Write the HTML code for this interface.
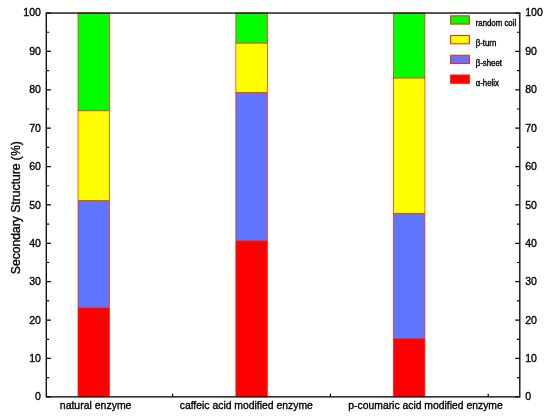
<!DOCTYPE html>
<html><head><meta charset="utf-8"><title>Secondary Structure</title>
<style>html,body{margin:0;padding:0;background:#fff;}svg{display:block;}text{font-family:"Liberation Sans",sans-serif;fill:#000;stroke:#000;stroke-width:0.35;}</style></head><body>
<svg width="550" height="417" viewBox="0 0 550 417">
<rect width="550" height="417" fill="#fff"/>
<path d="M46.3 396.85h4.6M519.8 396.85h-4.6M46.3 358.47h4.6M519.8 358.47h-4.6M46.3 320.09h4.6M519.8 320.09h-4.6M46.3 281.71h4.6M519.8 281.71h-4.6M46.3 243.33h4.6M519.8 243.33h-4.6M46.3 204.95h4.6M519.8 204.95h-4.6M46.3 166.57h4.6M519.8 166.57h-4.6M46.3 128.19h4.6M519.8 128.19h-4.6M46.3 89.81h4.6M519.8 89.81h-4.6M46.3 51.43h4.6M519.8 51.43h-4.6M46.3 13.05h4.6M519.8 13.05h-4.6M46.3 377.66h2.8M519.8 377.66h-2.8M46.3 339.28h2.8M519.8 339.28h-2.8M46.3 300.90h2.8M519.8 300.90h-2.8M46.3 262.52h2.8M519.8 262.52h-2.8M46.3 224.14h2.8M519.8 224.14h-2.8M46.3 185.76h2.8M519.8 185.76h-2.8M46.3 147.38h2.8M519.8 147.38h-2.8M46.3 109.00h2.8M519.8 109.00h-2.8M46.3 70.62h2.8M519.8 70.62h-2.8M46.3 32.24h2.8M519.8 32.24h-2.8M172.57 396.85v-3.2M330.40 396.85v-3.2M488.23 396.85v-3.2" stroke="#000" stroke-width="1.2" fill="none"/>
<rect x="78.00" y="307.81" width="31.50" height="89.04" fill="#ff0000" stroke="#ff2000" stroke-width="0.7"/>
<rect x="78.00" y="200.54" width="31.50" height="107.27" fill="#5f74ff" stroke="#ff2000" stroke-width="0.7"/>
<rect x="78.00" y="110.73" width="31.50" height="89.81" fill="#ffff00" stroke="#ff2000" stroke-width="0.7"/>
<rect x="78.00" y="13.05" width="31.50" height="97.68" fill="#00ff00" stroke="#ff2000" stroke-width="0.7"/>
<rect x="235.85" y="240.84" width="31.50" height="156.01" fill="#ff0000" stroke="#ff2000" stroke-width="0.7"/>
<rect x="235.85" y="92.50" width="31.50" height="148.34" fill="#5f74ff" stroke="#ff2000" stroke-width="0.7"/>
<rect x="235.85" y="42.99" width="31.50" height="49.51" fill="#ffff00" stroke="#ff2000" stroke-width="0.7"/>
<rect x="235.85" y="13.05" width="31.50" height="29.94" fill="#00ff00" stroke="#ff2000" stroke-width="0.7"/>
<rect x="393.40" y="338.70" width="31.50" height="58.15" fill="#ff0000" stroke="#ff2000" stroke-width="0.7"/>
<rect x="393.40" y="213.39" width="31.50" height="125.31" fill="#5f74ff" stroke="#ff2000" stroke-width="0.7"/>
<rect x="393.40" y="77.91" width="31.50" height="135.48" fill="#ffff00" stroke="#ff2000" stroke-width="0.7"/>
<rect x="393.40" y="13.05" width="31.50" height="64.86" fill="#00ff00" stroke="#ff2000" stroke-width="0.7"/>
<rect x="46.3" y="13.05" width="473.49999999999994" height="383.80" fill="none" stroke="#111" stroke-width="1.4"/>
<text transform="translate(40.90 400.35) scale(0.96 1)" font-size="11" text-anchor="end">0</text>
<text transform="translate(525.20 400.35) scale(0.96 1)" font-size="11" text-anchor="start">0</text>
<text transform="translate(40.90 362.02) scale(0.96 1)" font-size="11" text-anchor="end">10</text>
<text transform="translate(525.20 362.02) scale(0.96 1)" font-size="11" text-anchor="start">10</text>
<text transform="translate(40.90 323.69) scale(0.96 1)" font-size="11" text-anchor="end">20</text>
<text transform="translate(525.20 323.69) scale(0.96 1)" font-size="11" text-anchor="start">20</text>
<text transform="translate(40.90 285.36) scale(0.96 1)" font-size="11" text-anchor="end">30</text>
<text transform="translate(525.20 285.36) scale(0.96 1)" font-size="11" text-anchor="start">30</text>
<text transform="translate(40.90 247.03) scale(0.96 1)" font-size="11" text-anchor="end">40</text>
<text transform="translate(525.20 247.03) scale(0.96 1)" font-size="11" text-anchor="start">40</text>
<text transform="translate(40.90 208.65) scale(0.96 1)" font-size="11" text-anchor="end">50</text>
<text transform="translate(525.20 208.65) scale(0.96 1)" font-size="11" text-anchor="start">50</text>
<text transform="translate(40.90 170.27) scale(0.96 1)" font-size="11" text-anchor="end">60</text>
<text transform="translate(525.20 170.27) scale(0.96 1)" font-size="11" text-anchor="start">60</text>
<text transform="translate(40.90 131.84) scale(0.96 1)" font-size="11" text-anchor="end">70</text>
<text transform="translate(525.20 131.84) scale(0.96 1)" font-size="11" text-anchor="start">70</text>
<text transform="translate(40.90 93.41) scale(0.96 1)" font-size="11" text-anchor="end">80</text>
<text transform="translate(525.20 93.41) scale(0.96 1)" font-size="11" text-anchor="start">80</text>
<text transform="translate(40.90 54.93) scale(0.96 1)" font-size="11" text-anchor="end">90</text>
<text transform="translate(525.20 54.93) scale(0.96 1)" font-size="11" text-anchor="start">90</text>
<text transform="translate(40.90 16.35) scale(0.96 1)" font-size="11" text-anchor="end">100</text>
<text transform="translate(525.20 16.35) scale(0.96 1)" font-size="11" text-anchor="start">100</text>
<text transform="translate(59.80 408.65) scale(0.954 1)" font-size="11" text-anchor="start">natural enzyme</text>
<text transform="translate(179.70 408.65) scale(0.9455 1)" font-size="11" text-anchor="start">caffeic acid modified enzyme</text>
<text transform="translate(348.30 408.65) scale(0.943 1)" font-size="11" text-anchor="start">p-coumaric acid modified enzyme</text>
<text transform="translate(20.1 207.7) rotate(-90)" font-size="12.15" text-anchor="middle">Secondary Structure (%)</text>
<rect x="450.6" y="15.80" width="18.8" height="8.3" fill="#00ff00" stroke="#ff2000" stroke-width="1"/>
<text transform="translate(475.70 25.70) scale(0.945 1)" font-size="8.3" text-anchor="start">random coil</text>
<rect x="450.6" y="35.53" width="18.8" height="8.3" fill="#ffff00" stroke="#ff2000" stroke-width="1"/>
<text transform="translate(475.70 45.70) scale(0.945 1)" font-size="8.3" text-anchor="start">β-turn</text>
<rect x="450.6" y="55.26" width="18.8" height="8.3" fill="#5f74ff" stroke="#ff2000" stroke-width="1"/>
<text transform="translate(475.70 66.00) scale(0.945 1)" font-size="8.3" text-anchor="start">β-sheet</text>
<rect x="450.6" y="74.99" width="18.8" height="8.3" fill="#ff0000" stroke="#ff2000" stroke-width="1"/>
<text transform="translate(475.70 85.80) scale(0.945 1)" font-size="8.3" text-anchor="start">α-helix</text>
</svg></body></html>
